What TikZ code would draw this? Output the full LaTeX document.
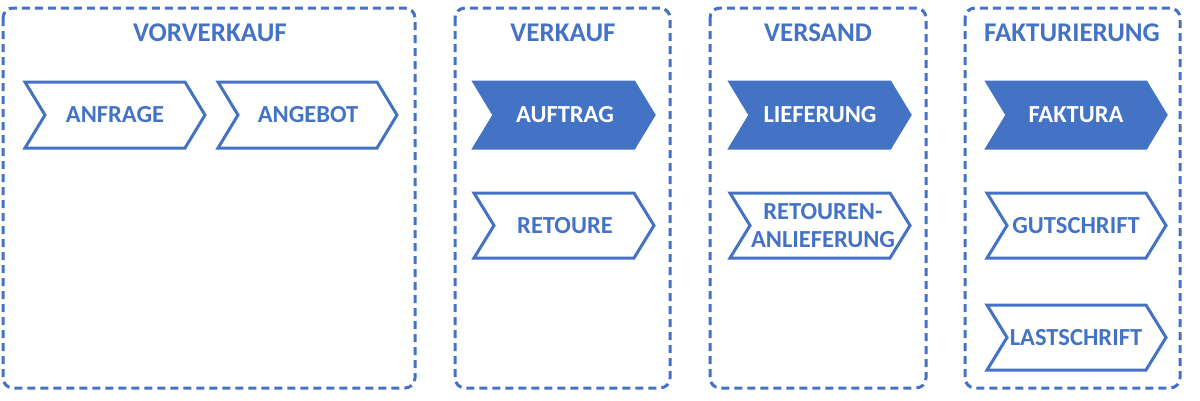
\documentclass[tikz,border=0pt]{standalone}
\usepackage{fontspec}
\setmainfont{Carlito}
\definecolor{mblue}{HTML}{4472C4}
\tikzset{
 frame/.style={draw=mblue,line width=3pt,dash pattern=on 8pt off 5pt,rounded corners=10pt},
 title/.style={text=mblue,font=\bfseries\fontsize{27}{30}\selectfont},
 chevtxt/.style={font=\bfseries\fontsize{24.5}{28}\selectfont,align=center,inner sep=0pt},
 chevline/.style={draw=mblue,line width=3pt,line join=miter}
}
\begin{document}
\begin{tikzpicture}[x=1pt,y=-1pt]
\useasboundingbox (0,0) rectangle (1200,400);
\draw[frame] (3,8) rectangle (415,388);
\draw[frame] (455,8) rectangle (670,388);
\draw[frame] (710,8) rectangle (926,388);
\draw[frame] (965,8) rectangle (1180,388);
\node[title] (t1) at (210,33) {VORVERKAUF};
\node[title] (t2) at (563,33) {VERKAUF};
\node[title] (t3) at (818,33) {VERSAND};
\node[title] (t4) at (1072,33) {FAKTURIERUNG};
\path[chevline] (25,82) -- ++(160,0) -- ++(20,33) -- ++(-20,33) -- ++(-160,0) -- ++(20,-33) -- cycle;
\node[chevtxt,text=mblue] (a1) at (115,115) {ANFRAGE};
\path[chevline] (218,82) -- ++(159,0) -- ++(20,33) -- ++(-20,33) -- ++(-159,0) -- ++(20,-33) -- cycle;
\node[chevtxt,text=mblue] (a2) at (308,115) {ANGEBOT};
\path[chevline,fill=mblue] (474,82) -- ++(160,0) -- ++(20,33) -- ++(-20,33) -- ++(-160,0) -- ++(20,-33) -- cycle;
\node[chevtxt,text=white] (b1) at (565,115) {AUFTRAG};
\path[chevline] (474,193) -- ++(160,0) -- ++(20,32.5) -- ++(-20,32.5) -- ++(-160,0) -- ++(20,-32.5) -- cycle;
\node[chevtxt,text=mblue] (b2) at (565,225.5) {RETOURE};
\path[chevline,fill=mblue] (730,82) -- ++(160,0) -- ++(20,33) -- ++(-20,33) -- ++(-160,0) -- ++(20,-33) -- cycle;
\node[chevtxt,text=white] (c1) at (820,115) {LIEFERUNG};
\path[chevline] (730,193) -- ++(160,0) -- ++(20,32.5) -- ++(-20,32.5) -- ++(-160,0) -- ++(20,-32.5) -- cycle;
\node[chevtxt,text=mblue] (c2) at (823,226) {RETOUREN-\\ANLIEFERUNG};
\path[chevline,fill=mblue] (987,82) -- ++(159,0) -- ++(20,33) -- ++(-20,33) -- ++(-159,0) -- ++(20,-33) -- cycle;
\node[chevtxt,text=white] (d1) at (1076,115) {FAKTURA};
\path[chevline] (987,193) -- ++(159,0) -- ++(20,32.5) -- ++(-20,32.5) -- ++(-159,0) -- ++(20,-32.5) -- cycle;
\node[chevtxt,text=mblue] (d2) at (1076,225.5) {GUTSCHRIFT};
\path[chevline] (987,305) -- ++(159,0) -- ++(20,32.5) -- ++(-20,32.5) -- ++(-159,0) -- ++(20,-32.5) -- cycle;
\node[chevtxt,text=mblue] (d3) at (1076,337.5) {LASTSCHRIFT};
\end{tikzpicture}
\end{document}
